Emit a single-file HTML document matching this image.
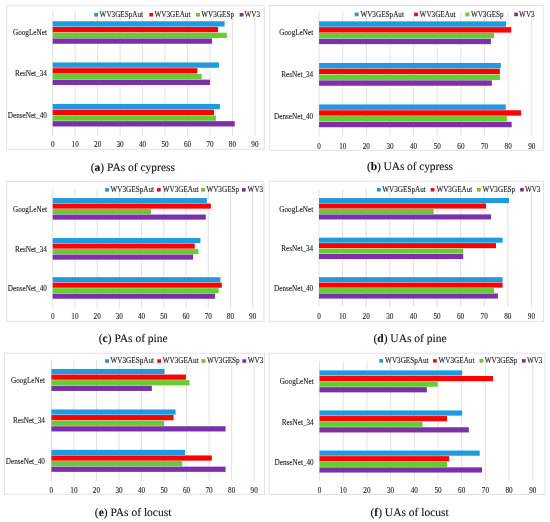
<!DOCTYPE html>
<html lang="en"><head><meta charset="utf-8"><title>Figure</title>
<style>html,body{margin:0;padding:0;background:#fff}svg{display:block}</style></head>
<body>
<svg width="550" height="522" viewBox="0 0 550 522">
<rect width="550" height="522" fill="#fff"/>
<g id="panel-a">
<rect x="6.5" y="5.7" width="257.7" height="143.6" fill="#fff" stroke="#dfdfdf" stroke-width="0.9"/>
<line x1="52.7" y1="11" x2="52.7" y2="135.9" stroke="#dedede" stroke-width="0.9"/>
<line x1="75.17" y1="11" x2="75.17" y2="135.9" stroke="#dedede" stroke-width="0.9"/>
<line x1="97.64" y1="11" x2="97.64" y2="135.9" stroke="#dedede" stroke-width="0.9"/>
<line x1="120.11" y1="11" x2="120.11" y2="135.9" stroke="#dedede" stroke-width="0.9"/>
<line x1="142.58" y1="11" x2="142.58" y2="135.9" stroke="#dedede" stroke-width="0.9"/>
<line x1="165.05" y1="11" x2="165.05" y2="135.9" stroke="#dedede" stroke-width="0.9"/>
<line x1="187.52" y1="11" x2="187.52" y2="135.9" stroke="#dedede" stroke-width="0.9"/>
<line x1="209.99" y1="11" x2="209.99" y2="135.9" stroke="#dedede" stroke-width="0.9"/>
<line x1="232.46" y1="11" x2="232.46" y2="135.9" stroke="#dedede" stroke-width="0.9"/>
<line x1="254.93" y1="11" x2="254.93" y2="135.9" stroke="#dedede" stroke-width="0.9"/>
<rect x="52.7" y="21.25" width="171.9" height="5.33" fill="#1f9ade"/>
<rect x="52.7" y="26.98" width="165.38" height="5.33" fill="#ff0000"/>
<rect x="52.7" y="32.71" width="174.14" height="5.33" fill="#66cc33"/>
<rect x="52.7" y="38.44" width="159.31" height="5.33" fill="#7b2fa8"/>
<rect x="52.7" y="62.45" width="166.28" height="5.33" fill="#1f9ade"/>
<rect x="52.7" y="68.18" width="144.71" height="5.33" fill="#ff0000"/>
<rect x="52.7" y="73.91" width="148.98" height="5.33" fill="#66cc33"/>
<rect x="52.7" y="79.64" width="157.29" height="5.33" fill="#7b2fa8"/>
<rect x="52.7" y="103.95" width="167.18" height="5.33" fill="#1f9ade"/>
<rect x="52.7" y="109.68" width="161.33" height="5.33" fill="#ff0000"/>
<rect x="52.7" y="115.41" width="163.13" height="5.33" fill="#66cc33"/>
<rect x="52.7" y="121.14" width="182.01" height="5.33" fill="#7b2fa8"/>
<g font-family="'Liberation Serif', serif" font-size="7.2" fill="#1a1a1a" stroke="#1a1a1a" stroke-width="0.1">
<text x="52.7" y="147.4" text-anchor="middle">0</text>
<text x="75.17" y="147.4" text-anchor="middle">10</text>
<text x="97.64" y="147.4" text-anchor="middle">20</text>
<text x="120.11" y="147.4" text-anchor="middle">30</text>
<text x="142.58" y="147.4" text-anchor="middle">40</text>
<text x="165.05" y="147.4" text-anchor="middle">50</text>
<text x="187.52" y="147.4" text-anchor="middle">60</text>
<text x="209.99" y="147.4" text-anchor="middle">70</text>
<text x="232.46" y="147.4" text-anchor="middle">80</text>
<text x="254.93" y="147.4" text-anchor="middle">90</text>
<text x="46.9" y="34.7" text-anchor="end">GoogLeNet</text>
<text x="46.9" y="75.8" text-anchor="end">ResNet_34</text>
<text x="46.9" y="117.6" text-anchor="end">DenseNet_40</text>
<rect x="94.3" y="13.05" width="3.6" height="3.4" fill="#1f9ade"/>
<text x="99.6" y="16.9">WV3GESpAut</text>
<rect x="149.4" y="13.05" width="3.6" height="3.4" fill="#ff0000"/>
<text x="154.5" y="16.9">WV3GEAut</text>
<rect x="196.2" y="13.05" width="3.6" height="3.4" fill="#66cc33"/>
<text x="201.3" y="16.9">WV3GESp</text>
<rect x="239.8" y="13.05" width="3.6" height="3.4" fill="#7b2fa8"/>
<text x="244.5" y="16.9">WV3</text>
</g>
<text x="132.9" y="170.6" text-anchor="middle" font-family="'Liberation Serif', serif" font-size="11.5" fill="#111" stroke="#111" stroke-width="0.1" text-rendering="geometricPrecision">(<tspan font-weight="bold">a</tspan>) PAs of cypress</text>
</g>
<g id="panel-b">
<rect x="269.8" y="5.5" width="273.4" height="144.8" fill="#fff" stroke="#dfdfdf" stroke-width="0.9"/>
<line x1="319.1" y1="11.8" x2="319.1" y2="136.4" stroke="#dedede" stroke-width="0.9"/>
<line x1="342.73" y1="11.8" x2="342.73" y2="136.4" stroke="#dedede" stroke-width="0.9"/>
<line x1="366.36" y1="11.8" x2="366.36" y2="136.4" stroke="#dedede" stroke-width="0.9"/>
<line x1="389.99" y1="11.8" x2="389.99" y2="136.4" stroke="#dedede" stroke-width="0.9"/>
<line x1="413.62" y1="11.8" x2="413.62" y2="136.4" stroke="#dedede" stroke-width="0.9"/>
<line x1="437.25" y1="11.8" x2="437.25" y2="136.4" stroke="#dedede" stroke-width="0.9"/>
<line x1="460.88" y1="11.8" x2="460.88" y2="136.4" stroke="#dedede" stroke-width="0.9"/>
<line x1="484.51" y1="11.8" x2="484.51" y2="136.4" stroke="#dedede" stroke-width="0.9"/>
<line x1="508.14" y1="11.8" x2="508.14" y2="136.4" stroke="#dedede" stroke-width="0.9"/>
<line x1="531.77" y1="11.8" x2="531.77" y2="136.4" stroke="#dedede" stroke-width="0.9"/>
<rect x="319.1" y="21.35" width="186.91" height="5.4" fill="#1f9ade"/>
<rect x="319.1" y="27.15" width="192.11" height="5.4" fill="#ff0000"/>
<rect x="319.1" y="32.95" width="174.86" height="5.4" fill="#66cc33"/>
<rect x="319.1" y="38.75" width="171.79" height="5.4" fill="#7b2fa8"/>
<rect x="319.1" y="62.95" width="181.71" height="5.4" fill="#1f9ade"/>
<rect x="319.1" y="68.75" width="180.77" height="5.4" fill="#ff0000"/>
<rect x="319.1" y="74.55" width="180.77" height="5.4" fill="#66cc33"/>
<rect x="319.1" y="80.35" width="172.74" height="5.4" fill="#7b2fa8"/>
<rect x="319.1" y="104.45" width="186.68" height="5.4" fill="#1f9ade"/>
<rect x="319.1" y="110.25" width="202.04" height="5.4" fill="#ff0000"/>
<rect x="319.1" y="116.05" width="187.86" height="5.4" fill="#66cc33"/>
<rect x="319.1" y="121.85" width="192.58" height="5.4" fill="#7b2fa8"/>
<g font-family="'Liberation Serif', serif" font-size="7.2" fill="#1a1a1a" stroke="#1a1a1a" stroke-width="0.1">
<text x="319.1" y="148.6" text-anchor="middle">0</text>
<text x="342.73" y="148.6" text-anchor="middle">10</text>
<text x="366.36" y="148.6" text-anchor="middle">20</text>
<text x="389.99" y="148.6" text-anchor="middle">30</text>
<text x="413.62" y="148.6" text-anchor="middle">40</text>
<text x="437.25" y="148.6" text-anchor="middle">50</text>
<text x="460.88" y="148.6" text-anchor="middle">60</text>
<text x="484.51" y="148.6" text-anchor="middle">70</text>
<text x="508.14" y="148.6" text-anchor="middle">80</text>
<text x="531.77" y="148.6" text-anchor="middle">90</text>
<text x="313.2" y="34.9" text-anchor="end">GoogLeNet</text>
<text x="313.2" y="76.9" text-anchor="end">ResNet_34</text>
<text x="313.2" y="118.9" text-anchor="end">DenseNet_40</text>
<rect x="354.9" y="12.75" width="3.6" height="3.4" fill="#1f9ade"/>
<text x="360.4" y="16.6">WV3GESpAut</text>
<rect x="414.3" y="12.75" width="3.6" height="3.4" fill="#ff0000"/>
<text x="419.6" y="16.6">WV3GEAut</text>
<rect x="465.6" y="12.75" width="3.6" height="3.4" fill="#66cc33"/>
<text x="470.9" y="16.6">WV3GESp</text>
<rect x="514.3" y="12.75" width="3.6" height="3.4" fill="#7b2fa8"/>
<text x="519.1" y="16.6">WV3</text>
</g>
<text x="410" y="170.4" text-anchor="middle" font-family="'Liberation Serif', serif" font-size="11.5" fill="#111" stroke="#111" stroke-width="0.1" text-rendering="geometricPrecision" letter-spacing="-0.11">(<tspan font-weight="bold">b</tspan>) UAs of cypress</text>
</g>
<g id="panel-c">
<rect x="6.7" y="181.4" width="257.2" height="140" fill="#fff" stroke="#dfdfdf" stroke-width="0.9"/>
<line x1="52.7" y1="189" x2="52.7" y2="307.8" stroke="#dedede" stroke-width="0.9"/>
<line x1="74.92" y1="189" x2="74.92" y2="307.8" stroke="#dedede" stroke-width="0.9"/>
<line x1="97.14" y1="189" x2="97.14" y2="307.8" stroke="#dedede" stroke-width="0.9"/>
<line x1="119.36" y1="189" x2="119.36" y2="307.8" stroke="#dedede" stroke-width="0.9"/>
<line x1="141.58" y1="189" x2="141.58" y2="307.8" stroke="#dedede" stroke-width="0.9"/>
<line x1="163.8" y1="189" x2="163.8" y2="307.8" stroke="#dedede" stroke-width="0.9"/>
<line x1="186.02" y1="189" x2="186.02" y2="307.8" stroke="#dedede" stroke-width="0.9"/>
<line x1="208.24" y1="189" x2="208.24" y2="307.8" stroke="#dedede" stroke-width="0.9"/>
<line x1="230.46" y1="189" x2="230.46" y2="307.8" stroke="#dedede" stroke-width="0.9"/>
<line x1="252.68" y1="189" x2="252.68" y2="307.8" stroke="#dedede" stroke-width="0.9"/>
<rect x="52.7" y="198.05" width="154.21" height="5.1" fill="#1f9ade"/>
<rect x="52.7" y="203.55" width="158.21" height="5.1" fill="#ff0000"/>
<rect x="52.7" y="209.05" width="98.21" height="5.1" fill="#66cc33"/>
<rect x="52.7" y="214.55" width="153.1" height="5.1" fill="#7b2fa8"/>
<rect x="52.7" y="238.05" width="147.76" height="5.1" fill="#1f9ade"/>
<rect x="52.7" y="243.55" width="141.99" height="5.1" fill="#ff0000"/>
<rect x="52.7" y="249.05" width="145.76" height="5.1" fill="#66cc33"/>
<rect x="52.7" y="254.55" width="140.43" height="5.1" fill="#7b2fa8"/>
<rect x="52.7" y="277.15" width="167.76" height="5.1" fill="#1f9ade"/>
<rect x="52.7" y="282.65" width="169.09" height="5.1" fill="#ff0000"/>
<rect x="52.7" y="288.15" width="165.98" height="5.1" fill="#66cc33"/>
<rect x="52.7" y="293.65" width="162.43" height="5.1" fill="#7b2fa8"/>
<g font-family="'Liberation Serif', serif" font-size="7.2" fill="#1a1a1a" stroke="#1a1a1a" stroke-width="0.1">
<text x="52.7" y="318.9" text-anchor="middle">0</text>
<text x="74.92" y="318.9" text-anchor="middle">10</text>
<text x="97.14" y="318.9" text-anchor="middle">20</text>
<text x="119.36" y="318.9" text-anchor="middle">30</text>
<text x="141.58" y="318.9" text-anchor="middle">40</text>
<text x="163.8" y="318.9" text-anchor="middle">50</text>
<text x="186.02" y="318.9" text-anchor="middle">60</text>
<text x="208.24" y="318.9" text-anchor="middle">70</text>
<text x="230.46" y="318.9" text-anchor="middle">80</text>
<text x="252.68" y="318.9" text-anchor="middle">90</text>
<text x="46.9" y="212.1" text-anchor="end">GoogLeNet</text>
<text x="46.9" y="251.8" text-anchor="end">ResNet_34</text>
<text x="46.9" y="291.1" text-anchor="end">DenseNet_40</text>
<rect x="105.3" y="188.15" width="3.6" height="3.4" fill="#1f9ade"/>
<text x="110.5" y="192">WV3GESpAut</text>
<rect x="157.1" y="188.15" width="3.6" height="3.4" fill="#ff0000"/>
<text x="162.7" y="192">WV3GEAut</text>
<rect x="201.3" y="188.15" width="3.6" height="3.4" fill="#66cc33"/>
<text x="206.4" y="192">WV3GESp</text>
<rect x="242" y="188.15" width="3.6" height="3.4" fill="#7b2fa8"/>
<text x="247.6" y="192">WV3</text>
</g>
<text x="133.2" y="342" text-anchor="middle" font-family="'Liberation Serif', serif" font-size="11.5" fill="#111" stroke="#111" stroke-width="0.1" text-rendering="geometricPrecision">(<tspan font-weight="bold">c</tspan>) PAs of pine</text>
</g>
<g id="panel-d">
<rect x="269.7" y="181.2" width="273.9" height="140.2" fill="#fff" stroke="#dfdfdf" stroke-width="0.9"/>
<line x1="319" y1="189" x2="319" y2="306.5" stroke="#dedede" stroke-width="0.9"/>
<line x1="342.6" y1="189" x2="342.6" y2="306.5" stroke="#dedede" stroke-width="0.9"/>
<line x1="366.2" y1="189" x2="366.2" y2="306.5" stroke="#dedede" stroke-width="0.9"/>
<line x1="389.8" y1="189" x2="389.8" y2="306.5" stroke="#dedede" stroke-width="0.9"/>
<line x1="413.4" y1="189" x2="413.4" y2="306.5" stroke="#dedede" stroke-width="0.9"/>
<line x1="437" y1="189" x2="437" y2="306.5" stroke="#dedede" stroke-width="0.9"/>
<line x1="460.6" y1="189" x2="460.6" y2="306.5" stroke="#dedede" stroke-width="0.9"/>
<line x1="484.2" y1="189" x2="484.2" y2="306.5" stroke="#dedede" stroke-width="0.9"/>
<line x1="507.8" y1="189" x2="507.8" y2="306.5" stroke="#dedede" stroke-width="0.9"/>
<line x1="531.4" y1="189" x2="531.4" y2="306.5" stroke="#dedede" stroke-width="0.9"/>
<rect x="319" y="198.05" width="189.98" height="5.05" fill="#1f9ade"/>
<rect x="319" y="203.5" width="167.09" height="5.05" fill="#ff0000"/>
<rect x="319" y="208.95" width="114.7" height="5.05" fill="#66cc33"/>
<rect x="319" y="214.4" width="172.04" height="5.05" fill="#7b2fa8"/>
<rect x="319" y="237.65" width="183.61" height="5.05" fill="#1f9ade"/>
<rect x="319" y="243.1" width="177" height="5.05" fill="#ff0000"/>
<rect x="319" y="248.55" width="144.2" height="5.05" fill="#66cc33"/>
<rect x="319" y="254" width="144.2" height="5.05" fill="#7b2fa8"/>
<rect x="319" y="277.15" width="183.61" height="5.05" fill="#1f9ade"/>
<rect x="319" y="282.6" width="183.61" height="5.05" fill="#ff0000"/>
<rect x="319" y="288.05" width="175.11" height="5.05" fill="#66cc33"/>
<rect x="319" y="293.5" width="178.89" height="5.05" fill="#7b2fa8"/>
<g font-family="'Liberation Serif', serif" font-size="7.2" fill="#1a1a1a" stroke="#1a1a1a" stroke-width="0.1">
<text x="319" y="319.1" text-anchor="middle">0</text>
<text x="342.6" y="319.1" text-anchor="middle">10</text>
<text x="366.2" y="319.1" text-anchor="middle">20</text>
<text x="389.8" y="319.1" text-anchor="middle">30</text>
<text x="413.4" y="319.1" text-anchor="middle">40</text>
<text x="437" y="319.1" text-anchor="middle">50</text>
<text x="460.6" y="319.1" text-anchor="middle">60</text>
<text x="484.2" y="319.1" text-anchor="middle">70</text>
<text x="507.8" y="319.1" text-anchor="middle">80</text>
<text x="531.4" y="319.1" text-anchor="middle">90</text>
<text x="313.2" y="212.2" text-anchor="end">GoogLeNet</text>
<text x="313.2" y="251.2" text-anchor="end">ResNet_34</text>
<text x="313.2" y="291.2" text-anchor="end">DenseNet_40</text>
<rect x="377" y="188.05" width="3.6" height="3.4" fill="#1f9ade"/>
<text x="382.3" y="191.9">WV3GESpAut</text>
<rect x="430.8" y="188.05" width="3.6" height="3.4" fill="#ff0000"/>
<text x="436.4" y="191.9">WV3GEAut</text>
<rect x="477" y="188.05" width="3.6" height="3.4" fill="#66cc33"/>
<text x="482.4" y="191.9">WV3GESp</text>
<rect x="520.2" y="188.05" width="3.6" height="3.4" fill="#7b2fa8"/>
<text x="524.9" y="191.9">WV3</text>
</g>
<text x="410" y="342" text-anchor="middle" font-family="'Liberation Serif', serif" font-size="11.5" fill="#111" stroke="#111" stroke-width="0.1" text-rendering="geometricPrecision">(<tspan font-weight="bold">d</tspan>) UAs of pine</text>
</g>
<g id="panel-e">
<rect x="4.5" y="353.2" width="260.1" height="141" fill="#fff" stroke="#dfdfdf" stroke-width="0.9"/>
<line x1="51.4" y1="359.6" x2="51.4" y2="480.9" stroke="#dedede" stroke-width="0.9"/>
<line x1="73.93" y1="359.6" x2="73.93" y2="480.9" stroke="#dedede" stroke-width="0.9"/>
<line x1="96.46" y1="359.6" x2="96.46" y2="480.9" stroke="#dedede" stroke-width="0.9"/>
<line x1="118.99" y1="359.6" x2="118.99" y2="480.9" stroke="#dedede" stroke-width="0.9"/>
<line x1="141.52" y1="359.6" x2="141.52" y2="480.9" stroke="#dedede" stroke-width="0.9"/>
<line x1="164.05" y1="359.6" x2="164.05" y2="480.9" stroke="#dedede" stroke-width="0.9"/>
<line x1="186.58" y1="359.6" x2="186.58" y2="480.9" stroke="#dedede" stroke-width="0.9"/>
<line x1="209.11" y1="359.6" x2="209.11" y2="480.9" stroke="#dedede" stroke-width="0.9"/>
<line x1="231.64" y1="359.6" x2="231.64" y2="480.9" stroke="#dedede" stroke-width="0.9"/>
<line x1="254.17" y1="359.6" x2="254.17" y2="480.9" stroke="#dedede" stroke-width="0.9"/>
<rect x="51.4" y="368.95" width="113.1" height="5.2" fill="#1f9ade"/>
<rect x="51.4" y="374.55" width="134.5" height="5.2" fill="#ff0000"/>
<rect x="51.4" y="380.15" width="138.11" height="5.2" fill="#66cc33"/>
<rect x="51.4" y="385.75" width="100.48" height="5.2" fill="#7b2fa8"/>
<rect x="51.4" y="409.45" width="124.14" height="5.2" fill="#1f9ade"/>
<rect x="51.4" y="415.05" width="122.11" height="5.2" fill="#ff0000"/>
<rect x="51.4" y="420.65" width="112.65" height="5.2" fill="#66cc33"/>
<rect x="51.4" y="426.25" width="174.16" height="5.2" fill="#7b2fa8"/>
<rect x="51.4" y="449.85" width="133.6" height="5.2" fill="#1f9ade"/>
<rect x="51.4" y="455.45" width="160.41" height="5.2" fill="#ff0000"/>
<rect x="51.4" y="461.05" width="130.9" height="5.2" fill="#66cc33"/>
<rect x="51.4" y="466.65" width="174.16" height="5.2" fill="#7b2fa8"/>
<g font-family="'Liberation Serif', serif" font-size="7.2" fill="#1a1a1a" stroke="#1a1a1a" stroke-width="0.1">
<text x="51.4" y="492.5" text-anchor="middle">0</text>
<text x="73.93" y="492.5" text-anchor="middle">10</text>
<text x="96.46" y="492.5" text-anchor="middle">20</text>
<text x="118.99" y="492.5" text-anchor="middle">30</text>
<text x="141.52" y="492.5" text-anchor="middle">40</text>
<text x="164.05" y="492.5" text-anchor="middle">50</text>
<text x="186.58" y="492.5" text-anchor="middle">60</text>
<text x="209.11" y="492.5" text-anchor="middle">70</text>
<text x="231.64" y="492.5" text-anchor="middle">80</text>
<text x="254.17" y="492.5" text-anchor="middle">90</text>
<text x="44.9" y="383.2" text-anchor="end">GoogLeNet</text>
<text x="44.9" y="423.4" text-anchor="end">ResNet_34</text>
<text x="44.9" y="464.2" text-anchor="end">DenseNet_40</text>
<rect x="105.3" y="359.35" width="3.6" height="3.4" fill="#1f9ade"/>
<text x="110.5" y="363.2">WV3GESpAut</text>
<rect x="157.4" y="359.35" width="3.6" height="3.4" fill="#ff0000"/>
<text x="162.7" y="363.2">WV3GEAut</text>
<rect x="201.7" y="359.35" width="3.6" height="3.4" fill="#66cc33"/>
<text x="206.9" y="363.2">WV3GESp</text>
<rect x="242.5" y="359.35" width="3.6" height="3.4" fill="#7b2fa8"/>
<text x="247.8" y="363.2">WV3</text>
</g>
<text x="133.1" y="515.6" text-anchor="middle" font-family="'Liberation Serif', serif" font-size="11.5" fill="#111" stroke="#111" stroke-width="0.1" text-rendering="geometricPrecision">(<tspan font-weight="bold">e</tspan>) PAs of locust</text>
</g>
<g id="panel-f">
<rect x="269.1" y="353.2" width="275.9" height="141.3" fill="#fff" stroke="#dfdfdf" stroke-width="0.9"/>
<line x1="319.5" y1="361" x2="319.5" y2="481.2" stroke="#dedede" stroke-width="0.9"/>
<line x1="343.2" y1="361" x2="343.2" y2="481.2" stroke="#dedede" stroke-width="0.9"/>
<line x1="366.9" y1="361" x2="366.9" y2="481.2" stroke="#dedede" stroke-width="0.9"/>
<line x1="390.6" y1="361" x2="390.6" y2="481.2" stroke="#dedede" stroke-width="0.9"/>
<line x1="414.3" y1="361" x2="414.3" y2="481.2" stroke="#dedede" stroke-width="0.9"/>
<line x1="438" y1="361" x2="438" y2="481.2" stroke="#dedede" stroke-width="0.9"/>
<line x1="461.7" y1="361" x2="461.7" y2="481.2" stroke="#dedede" stroke-width="0.9"/>
<line x1="485.4" y1="361" x2="485.4" y2="481.2" stroke="#dedede" stroke-width="0.9"/>
<line x1="509.1" y1="361" x2="509.1" y2="481.2" stroke="#dedede" stroke-width="0.9"/>
<line x1="532.8" y1="361" x2="532.8" y2="481.2" stroke="#dedede" stroke-width="0.9"/>
<rect x="319.5" y="370.35" width="142.67" height="5.2" fill="#1f9ade"/>
<rect x="319.5" y="375.95" width="173.48" height="5.2" fill="#ff0000"/>
<rect x="319.5" y="381.55" width="118.26" height="5.2" fill="#66cc33"/>
<rect x="319.5" y="387.15" width="107.36" height="5.2" fill="#7b2fa8"/>
<rect x="319.5" y="410.45" width="142.67" height="5.2" fill="#1f9ade"/>
<rect x="319.5" y="416.05" width="127.51" height="5.2" fill="#ff0000"/>
<rect x="319.5" y="421.65" width="103.09" height="5.2" fill="#66cc33"/>
<rect x="319.5" y="427.25" width="149.31" height="5.2" fill="#7b2fa8"/>
<rect x="319.5" y="450.55" width="160.21" height="5.2" fill="#1f9ade"/>
<rect x="319.5" y="456.15" width="129.64" height="5.2" fill="#ff0000"/>
<rect x="319.5" y="461.75" width="127.51" height="5.2" fill="#66cc33"/>
<rect x="319.5" y="467.35" width="162.58" height="5.2" fill="#7b2fa8"/>
<g font-family="'Liberation Serif', serif" font-size="7.2" fill="#1a1a1a" stroke="#1a1a1a" stroke-width="0.1">
<text x="319.5" y="492.9" text-anchor="middle">0</text>
<text x="343.2" y="492.9" text-anchor="middle">10</text>
<text x="366.9" y="492.9" text-anchor="middle">20</text>
<text x="390.6" y="492.9" text-anchor="middle">30</text>
<text x="414.3" y="492.9" text-anchor="middle">40</text>
<text x="438" y="492.9" text-anchor="middle">50</text>
<text x="461.7" y="492.9" text-anchor="middle">60</text>
<text x="485.4" y="492.9" text-anchor="middle">70</text>
<text x="509.1" y="492.9" text-anchor="middle">80</text>
<text x="532.8" y="492.9" text-anchor="middle">90</text>
<text x="313.7" y="384.4" text-anchor="end">GoogLeNet</text>
<text x="313.7" y="424.7" text-anchor="end">ResNet_34</text>
<text x="313.7" y="464.7" text-anchor="end">DenseNet_40</text>
<rect x="379.4" y="359.15" width="3.6" height="3.4" fill="#1f9ade"/>
<text x="385.1" y="363">WV3GESpAut</text>
<rect x="433.1" y="359.15" width="3.6" height="3.4" fill="#ff0000"/>
<text x="438.5" y="363">WV3GEAut</text>
<rect x="479.6" y="359.15" width="3.6" height="3.4" fill="#66cc33"/>
<text x="484.7" y="363">WV3GESp</text>
<rect x="522" y="359.15" width="3.6" height="3.4" fill="#7b2fa8"/>
<text x="526.9" y="363">WV3</text>
</g>
<text x="409.6" y="515.6" text-anchor="middle" font-family="'Liberation Serif', serif" font-size="11.5" fill="#111" stroke="#111" stroke-width="0.1" text-rendering="geometricPrecision">(<tspan font-weight="bold">f</tspan>) UAs of locust</text>
</g>
</svg>
</body></html>
